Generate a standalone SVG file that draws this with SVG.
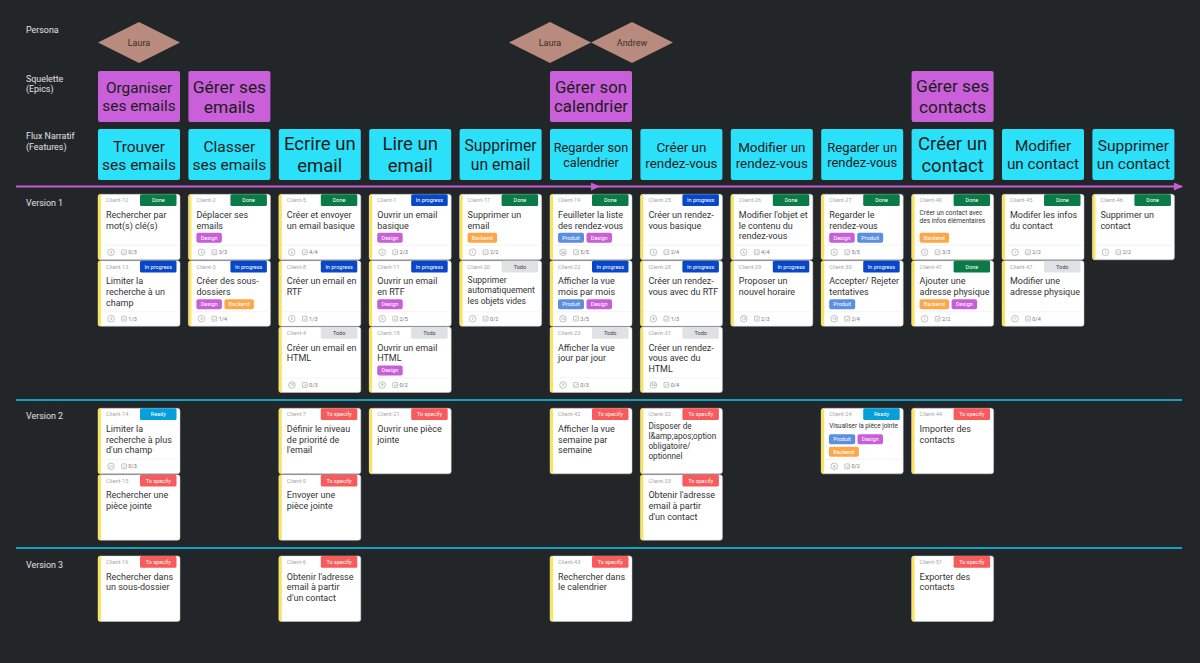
<svg xmlns="http://www.w3.org/2000/svg" xmlns:xlink="http://www.w3.org/1999/xlink" width="1200" height="663" viewBox="0 0 1200 663">
<style>
text{font-family:Roboto,"Liberation Sans",sans-serif}
.lbl{font-size:8.9px;fill:#e2e2e2}
.dia{fill:#b88b7e}
.dt{font-size:9px;fill:#3a2e2a;text-anchor:middle}
.epic{fill:#c960d9}
.feat{fill:#2be1fa}
.bx{fill:#1c1c1c;text-anchor:middle}
.card{fill:#fff;stroke:#c9c9c9;stroke-width:0.5}
.strip{fill:#fbe35c}
.cid{font-size:5.7px;fill:#a8a8a8}
.b-done{fill:#0a7a46}
.b-prog{fill:#0848c8}
.b-todo{fill:#dfe1e5}
.b-ready{fill:#079fd9}
.b-spec{fill:#f75b5b}
.bt{font-size:5.5px;fill:#fff;text-anchor:middle}
.bt.dk{fill:#3d3d3d}
.tt{font-size:9px;fill:#333}
.tt.s65{font-size:6.5px}
.tt.s64{font-size:6.4px}
.tt.s85{font-size:8.5px}
.tt.s82{font-size:8.2px}
.t-des{fill:#c95fd8}
.t-bak{fill:#fca84a}
.t-pro{fill:#5c8fdf}
.tgt{font-size:5.5px;fill:#fff;text-anchor:middle}
.sep{stroke:#efefef;stroke-width:0.7}
.pt{fill:none;stroke:#9a9a9a;stroke-width:0.6}
.ptn{font-size:3.6px;fill:#888;text-anchor:middle}
.cbx{fill:none;stroke:#9a9a9a;stroke-width:0.6}
.ck{fill:none;stroke:#8a8a8a;stroke-width:0.5}
.ft{font-size:5.5px;fill:#777}
.flow{stroke:#c45ed4;stroke-width:2;fill:none}
.ver{stroke:#0fa3c3;stroke-width:2}
</style>
<defs>
<marker id="ah" markerWidth="9" markerHeight="8" refX="8" refY="4" orient="auto" markerUnits="userSpaceOnUse"><path d="M0,0 L9,4 L0,8 z" fill="#c45ed4"/></marker>
<clipPath id="cc"><rect width="82" height="65.5" rx="2.5"/></clipPath>
<g id="card"><rect class="card" width="82" height="65.5" rx="2.5"/><rect class="strip" width="3" height="65.5" clip-path="url(#cc)"/></g>
<g id="foot"><line class="sep" x1="3" y1="51" x2="82" y2="51"/><circle class="pt" cx="13" cy="58" r="3.3"/><rect class="cbx" x="23.6" y="55.6" width="4.8" height="4.8" rx="0.6"/><path class="ck" d="M24.8,58.1l1,1l1.6,-2"/></g>
</defs>
<rect width="1200" height="663" fill="#222629"/>

<g id="labels">
<text class="lbl" x="26" y="32.7">Persona</text>
<text class="lbl" x="26" y="81.7">Squelette</text>
<text class="lbl" x="26" y="92.3">(Epics)</text>
<text class="lbl" x="26" y="139.3">Flux Narratif</text>
<text class="lbl" x="26" y="150">(Features)</text>
<text class="lbl" x="26" y="206">Version 1</text>
<text class="lbl" x="26" y="419">Version 2</text>
<text class="lbl" x="26" y="568">Version 3</text>
</g>

<g id="connectors">
<line class="flow" x1="16" y1="186.5" x2="599" y2="186.5" marker-end="url(#ah)"/>
<line class="flow" x1="599" y1="186.5" x2="1182" y2="186.5" marker-end="url(#ah)"/>
<line class="ver" x1="16" y1="400" x2="1182" y2="400"/>
<line class="ver" x1="16" y1="548" x2="1182" y2="548"/>
</g>

<g id="persona-laura-1"><path class="dia" d="M139,22 L180,42.5 L139,63 L98,42.5 z"/><text class="dt" x="139" y="45.5">Laura</text></g>
<g id="persona-laura-2"><path class="dia" d="M550,22 L591,42.5 L550,63 L509,42.5 z"/><text class="dt" x="550" y="45.5">Laura</text></g>
<g id="persona-andrew"><path class="dia" d="M632,22 L673,42.5 L632,63 L591,42.5 z"/><text class="dt" x="632" y="45.5">Andrew</text></g>

<g id="epic-organiser"><rect class="epic" x="98" y="71" width="82" height="51" rx="2"/><text class="bx" font-size="15.4"><tspan x="139" y="93.3">Organiser</tspan><tspan x="139" y="111">ses emails</tspan></text></g>
<g id="epic-gerer-emails"><rect class="epic" x="188.4" y="71" width="82" height="51" rx="2"/><text class="bx" font-size="17.4"><tspan x="229.4" y="92.7">Gérer ses</tspan><tspan x="229.4" y="113.3">emails</tspan></text></g>
<g id="epic-calendrier"><rect class="epic" x="550" y="71" width="82" height="51" rx="2"/><text class="bx" font-size="16.8"><tspan x="591" y="92.7">Gérer son</tspan><tspan x="591" y="112.3">calendrier</tspan></text></g>
<g id="epic-contacts"><rect class="epic" x="911.6" y="71" width="82" height="51" rx="2"/><text class="bx" font-size="17.3"><tspan x="952.6" y="91.7">Gérer ses</tspan><tspan x="952.6" y="113.3">contacts</tspan></text></g>

<g id="feat-trouver"><rect class="feat" x="98" y="129" width="82" height="51" rx="2"/><text class="bx" font-size="15.5"><tspan x="139" y="151.7">Trouver</tspan><tspan x="139" y="170">ses emails</tspan></text></g>
<g id="feat-classer"><rect class="feat" x="188.4" y="129" width="82" height="51" rx="2"/><text class="bx" font-size="15.5"><tspan x="229.4" y="151.7">Classer</tspan><tspan x="229.4" y="170">ses emails</tspan></text></g>
<g id="feat-ecrire"><rect class="feat" x="278.8" y="129" width="82" height="51" rx="2"/><text class="bx" font-size="18.5"><tspan x="319.8" y="150">Ecrire un</tspan><tspan x="319.8" y="172.3">email</tspan></text></g>
<g id="feat-lire"><rect class="feat" x="369.2" y="129" width="82" height="51" rx="2"/><text class="bx" font-size="18.5"><tspan x="410.2" y="150">Lire un</tspan><tspan x="410.2" y="172.3">email</tspan></text></g>
<g id="feat-supprimer-email"><rect class="feat" x="459.6" y="129" width="82" height="51" rx="2"/><text class="bx" font-size="15.7"><tspan x="500.6" y="151">Supprimer</tspan><tspan x="500.6" y="170">un email</tspan></text></g>
<g id="feat-regarder-cal"><rect class="feat" x="550" y="129" width="82" height="51" rx="2"/><text class="bx" font-size="12.6"><tspan x="591" y="151.7">Regarder son</tspan><tspan x="591" y="166.7">calendrier</tspan></text></g>
<g id="feat-creer-rdv"><rect class="feat" x="640.4" y="129" width="82" height="51" rx="2"/><text class="bx" font-size="13.4"><tspan x="681.4" y="151.7">Créer un</tspan><tspan x="681.4" y="167.7">rendez-vous</tspan></text></g>
<g id="feat-modifier-rdv"><rect class="feat" x="730.8" y="129" width="82" height="51" rx="2"/><text class="bx" font-size="13.4"><tspan x="771.8" y="151.7">Modifier un</tspan><tspan x="771.8" y="167.7">rendez-vous</tspan></text></g>
<g id="feat-regarder-rdv"><rect class="feat" x="821.2" y="129" width="82" height="51" rx="2"/><text class="bx" font-size="13"><tspan x="862.2" y="151.7">Regarder un</tspan><tspan x="862.2" y="167.3">rendez-vous</tspan></text></g>
<g id="feat-creer-contact"><rect class="feat" x="911.6" y="129" width="82" height="51" rx="2"/><text class="bx" font-size="18.5"><tspan x="952.6" y="150">Créer un</tspan><tspan x="952.6" y="172.3">contact</tspan></text></g>
<g id="feat-modifier-contact"><rect class="feat" x="1002" y="129" width="82" height="51" rx="2"/><text class="bx" font-size="15.3"><tspan x="1043" y="150.7">Modifier</tspan><tspan x="1043" y="169">un contact</tspan></text></g>
<g id="feat-supprimer-contact"><rect class="feat" x="1092.4" y="129" width="82" height="51" rx="2"/><text class="bx" font-size="15.5"><tspan x="1133.4" y="151.3">Supprimer</tspan><tspan x="1133.4" y="169.3">un contact</tspan></text></g>

<!-- Version 1 row 0 -->
<g id="client-12" transform="translate(98,194.3)"><use href="#card"/><text class="cid" x="8" y="8">Client-12</text><rect class="b-done" x="42" width="36.5" height="11.7" rx="1.5"/><text class="bt" x="60.3" y="7.9">Done</text><text class="tt"><tspan x="8" y="23.5">Rechercher par</tspan><tspan x="8" y="34.3">mot(s) clé(s)</tspan></text><use href="#foot"/><text class="ptn" x="13" y="59.3">3</text><text class="ft" x="30.3" y="60">0/3</text></g>
<g id="client-2" transform="translate(188.4,194.3)"><use href="#card"/><text class="cid" x="8" y="8">Client-2</text><rect class="b-done" x="42" width="36.5" height="11.7" rx="1.5"/><text class="bt" x="60.3" y="7.9">Done</text><text class="tt"><tspan x="8" y="23.5">Déplacer ses</tspan><tspan x="8" y="34.3">emails</tspan></text><rect class="t-des" x="8" y="38.5" width="25.5" height="10" rx="2"/><text class="tgt" x="20.75" y="45.4">Design</text><use href="#foot"/><text class="ptn" x="13" y="59.3">3</text><text class="ft" x="30.3" y="60">3/3</text></g>
<g id="client-5" transform="translate(278.8,194.3)"><use href="#card"/><text class="cid" x="8" y="8">Client-5</text><rect class="b-done" x="42" width="36.5" height="11.7" rx="1.5"/><text class="bt" x="60.3" y="7.9">Done</text><text class="tt"><tspan x="8" y="23.5">Créer et envoyer</tspan><tspan x="8" y="34.3">un email basique</tspan></text><use href="#foot"/><text class="ptn" x="13" y="59.3">3</text><text class="ft" x="30.3" y="60">4/4</text></g>
<g id="client-1" transform="translate(369.2,194.3)"><use href="#card"/><text class="cid" x="8" y="8">Client-1</text><rect class="b-prog" x="42" width="36.5" height="11.7" rx="1.5"/><text class="bt" x="60.3" y="7.9">In progress</text><text class="tt"><tspan x="8" y="23.5">Ouvrir un email</tspan><tspan x="8" y="34.3">basique</tspan></text><rect class="t-des" x="8" y="38.5" width="25.5" height="10" rx="2"/><text class="tgt" x="20.75" y="45.4">Design</text><use href="#foot"/><text class="ptn" x="13" y="59.3">3</text><text class="ft" x="30.3" y="60">2/3</text></g>
<g id="client-17" transform="translate(459.6,194.3)"><use href="#card"/><text class="cid" x="8" y="8">Client-17</text><rect class="b-done" x="42" width="36.5" height="11.7" rx="1.5"/><text class="bt" x="60.3" y="7.9">Done</text><text class="tt"><tspan x="8" y="23.5">Supprimer un</tspan><tspan x="8" y="34.3">email</tspan></text><rect class="t-bak" x="8" y="38.5" width="29.5" height="10" rx="2"/><text class="tgt" x="22.75" y="45.4">Backend</text><use href="#foot"/><text class="ptn" x="13" y="59.3">1</text><text class="ft" x="30.3" y="60">2/2</text></g>
<g id="client-19" transform="translate(550,194.3)"><use href="#card"/><text class="cid" x="8" y="8">Client-19</text><rect class="b-done" x="42" width="36.5" height="11.7" rx="1.5"/><text class="bt" x="60.3" y="7.9">Done</text><text class="tt"><tspan x="8" y="23.5">Feuilleter la liste</tspan><tspan x="8" y="34.3">des rendez-vous</tspan></text><rect class="t-pro" x="8" y="38.5" width="26" height="10" rx="2"/><text class="tgt" x="21" y="45.4">Produit</text><rect class="t-des" x="36.5" y="38.5" width="25.5" height="10" rx="2"/><text class="tgt" x="49.25" y="45.4">Design</text><use href="#foot"/><text class="ptn" x="13" y="59.3">34</text><text class="ft" x="30.3" y="60">5/5</text></g>
<g id="client-25" transform="translate(640.4,194.3)"><use href="#card"/><text class="cid" x="8" y="8">Client-25</text><rect class="b-prog" x="42" width="36.5" height="11.7" rx="1.5"/><text class="bt" x="60.3" y="7.9">In progress</text><text class="tt"><tspan x="8" y="23.5">Créer un rendez-</tspan><tspan x="8" y="34.3">vous basique</tspan></text><use href="#foot"/><text class="ptn" x="13" y="59.3">3</text><text class="ft" x="30.3" y="60">2/4</text></g>
<g id="client-26" transform="translate(730.8,194.3)"><use href="#card"/><text class="cid" x="8" y="8">Client-26</text><rect class="b-done" x="42" width="36.5" height="11.7" rx="1.5"/><text class="bt" x="60.3" y="7.9">Done</text><text class="tt"><tspan x="8" y="23.5">Modifier l'objet et</tspan><tspan x="8" y="34.3">le contenu du</tspan><tspan x="8" y="45.1">rendez-vous</tspan></text><use href="#foot"/><text class="ptn" x="13" y="59.3">5</text><text class="ft" x="30.3" y="60">4/4</text></g>
<g id="client-27" transform="translate(821.2,194.3)"><use href="#card"/><text class="cid" x="8" y="8">Client-27</text><rect class="b-done" x="42" width="36.5" height="11.7" rx="1.5"/><text class="bt" x="60.3" y="7.9">Done</text><text class="tt"><tspan x="8" y="23.5">Regarder le</tspan><tspan x="8" y="34.3">rendez-vous</tspan></text><rect class="t-des" x="8" y="38.5" width="25.5" height="10" rx="2"/><text class="tgt" x="20.75" y="45.4">Design</text><rect class="t-pro" x="36" y="38.5" width="26" height="10" rx="2"/><text class="tgt" x="49" y="45.4">Produit</text><use href="#foot"/><text class="ptn" x="13" y="59.3">5</text><text class="ft" x="30.3" y="60">5/5</text></g>
<g id="client-40" transform="translate(911.6,194.3)"><use href="#card"/><text class="cid" x="8" y="8">Client-40</text><rect class="b-done" x="42" width="36.5" height="11.7" rx="1.5"/><text class="bt" x="60.3" y="7.9">Done</text><text class="tt s65"><tspan x="8" y="21">Créer un contact avec</tspan><tspan x="8" y="28.7">des infos élémentaires</tspan></text><rect class="t-bak" x="8" y="38.5" width="29.5" height="10" rx="2"/><text class="tgt" x="22.75" y="45.4">Backend</text><use href="#foot"/><text class="ptn" x="13" y="59.3">2</text><text class="ft" x="30.3" y="60">3/3</text></g>
<g id="client-45" transform="translate(1002,194.3)"><use href="#card"/><text class="cid" x="8" y="8">Client-45</text><rect class="b-done" x="42" width="36.5" height="11.7" rx="1.5"/><text class="bt" x="60.3" y="7.9">Done</text><text class="tt"><tspan x="8" y="23.5">Modifer les infos</tspan><tspan x="8" y="34.3">du contact</tspan></text><use href="#foot"/><text class="ptn" x="13" y="59.3">1</text><text class="ft" x="30.3" y="60">2/2</text></g>
<g id="client-46" transform="translate(1092.4,194.3)"><use href="#card"/><text class="cid" x="8" y="8">Client-46</text><rect class="b-done" x="42" width="36.5" height="11.7" rx="1.5"/><text class="bt" x="60.3" y="7.9">Done</text><text class="tt"><tspan x="8" y="23.5">Supprimer un</tspan><tspan x="8" y="34.3">contact</tspan></text><use href="#foot"/><text class="ptn" x="13" y="59.3">1</text><text class="ft" x="30.3" y="60">2/2</text></g>

<!-- Version 1 row 1 -->
<g id="client-13" transform="translate(98,260.7)"><use href="#card"/><text class="cid" x="8" y="8">Client-13</text><rect class="b-prog" x="42" width="36.5" height="11.7" rx="1.5"/><text class="bt" x="60.3" y="7.9">In progress</text><text class="tt"><tspan x="8" y="23.5">Limiter la</tspan><tspan x="8" y="34.3">recherche à un</tspan><tspan x="8" y="45.1">champ</tspan></text><use href="#foot"/><text class="ptn" x="13" y="59.3">3</text><text class="ft" x="30.3" y="60">1/3</text></g>
<g id="client-3" transform="translate(188.4,260.7)"><use href="#card"/><text class="cid" x="8" y="8">Client-3</text><rect class="b-prog" x="42" width="36.5" height="11.7" rx="1.5"/><text class="bt" x="60.3" y="7.9">In progress</text><text class="tt"><tspan x="8" y="23.5">Créer des sous-</tspan><tspan x="8" y="34.3">dossiers</tspan></text><rect class="t-des" x="8" y="38.5" width="25.5" height="10" rx="2"/><text class="tgt" x="20.75" y="45.4">Design</text><rect class="t-bak" x="36" y="38.5" width="29.5" height="10" rx="2"/><text class="tgt" x="50.75" y="45.4">Backend</text><use href="#foot"/><text class="ptn" x="13" y="59.3">5</text><text class="ft" x="30.3" y="60">1/4</text></g>
<g id="client-8" transform="translate(278.8,260.7)"><use href="#card"/><text class="cid" x="8" y="8">Client-8</text><rect class="b-prog" x="42" width="36.5" height="11.7" rx="1.5"/><text class="bt" x="60.3" y="7.9">In progress</text><text class="tt"><tspan x="8" y="23.5">Créer un email en</tspan><tspan x="8" y="34.3">RTF</tspan></text><use href="#foot"/><text class="ptn" x="13" y="59.3">5</text><text class="ft" x="30.3" y="60">1/3</text></g>
<g id="client-11" transform="translate(369.2,260.7)"><use href="#card"/><text class="cid" x="8" y="8">Client-11</text><rect class="b-prog" x="42" width="36.5" height="11.7" rx="1.5"/><text class="bt" x="60.3" y="7.9">In progress</text><text class="tt"><tspan x="8" y="23.5">Ouvrir un email</tspan><tspan x="8" y="34.3">en RTF</tspan></text><rect class="t-des" x="8" y="38.5" width="25.5" height="10" rx="2"/><text class="tgt" x="20.75" y="45.4">Design</text><use href="#foot"/><text class="ptn" x="13" y="59.3">5</text><text class="ft" x="30.3" y="60">2/5</text></g>
<g id="client-20" transform="translate(459.6,260.7)"><use href="#card"/><text class="cid" x="8" y="8">Client-20</text><rect class="b-todo" x="42" width="36.5" height="11.7" rx="1.5"/><text class="bt dk" x="60.3" y="7.9">Todo</text><text class="tt s85"><tspan x="8" y="22.3">Supprimer</tspan><tspan x="8" y="32.6">automatiquement</tspan><tspan x="8" y="42.9">les objets vides</tspan></text><use href="#foot"/><text class="ptn" x="13" y="59.3">2</text><text class="ft" x="30.3" y="60">0/2</text></g>
<g id="client-22" transform="translate(550,260.7)"><use href="#card"/><text class="cid" x="8" y="8">Client-22</text><rect class="b-prog" x="42" width="36.5" height="11.7" rx="1.5"/><text class="bt" x="60.3" y="7.9">In progress</text><text class="tt"><tspan x="8" y="23.5">Afficher la vue</tspan><tspan x="8" y="34.3">mois par mois</tspan></text><rect class="t-pro" x="8" y="38.5" width="26" height="10" rx="2"/><text class="tgt" x="21" y="45.4">Produit</text><rect class="t-des" x="36.5" y="38.5" width="25.5" height="10" rx="2"/><text class="tgt" x="49.25" y="45.4">Design</text><use href="#foot"/><text class="ptn" x="13" y="59.3">13</text><text class="ft" x="30.3" y="60">3/5</text></g>
<g id="client-28" transform="translate(640.4,260.7)"><use href="#card"/><text class="cid" x="8" y="8">Client-28</text><rect class="b-prog" x="42" width="36.5" height="11.7" rx="1.5"/><text class="bt" x="60.3" y="7.9">In progress</text><text class="tt"><tspan x="8" y="23.5">Créer un rendez-</tspan><tspan x="8" y="34.3">vous avec du RTF</tspan></text><use href="#foot"/><text class="ptn" x="13" y="59.3">8</text><text class="ft" x="30.3" y="60">1/3</text></g>
<g id="client-29" transform="translate(730.8,260.7)"><use href="#card"/><text class="cid" x="8" y="8">Client-29</text><rect class="b-prog" x="42" width="36.5" height="11.7" rx="1.5"/><text class="bt" x="60.3" y="7.9">In progress</text><text class="tt"><tspan x="8" y="23.5">Proposer un</tspan><tspan x="8" y="34.3">nouvel horaire</tspan></text><use href="#foot"/><text class="ptn" x="13" y="59.3">13</text><text class="ft" x="30.3" y="60">2/3</text></g>
<g id="client-30" transform="translate(821.2,260.7)"><use href="#card"/><text class="cid" x="8" y="8">Client-30</text><rect class="b-prog" x="42" width="36.5" height="11.7" rx="1.5"/><text class="bt" x="60.3" y="7.9">In progress</text><text class="tt"><tspan x="8" y="23.5">Accepter/ Rejeter</tspan><tspan x="8" y="34.3">tentatives</tspan></text><rect class="t-pro" x="8" y="38.5" width="26" height="10" rx="2"/><text class="tgt" x="21" y="45.4">Produit</text><use href="#foot"/><text class="ptn" x="13" y="59.3">13</text><text class="ft" x="30.3" y="60">2/4</text></g>
<g id="client-41" transform="translate(911.6,260.7)"><use href="#card"/><text class="cid" x="8" y="8">Client-41</text><rect class="b-done" x="42" width="36.5" height="11.7" rx="1.5"/><text class="bt" x="60.3" y="7.9">Done</text><text class="tt"><tspan x="8" y="23.5">Ajouter une</tspan><tspan x="8" y="34.3">adresse physique</tspan></text><rect class="t-bak" x="8" y="38.5" width="29.5" height="10" rx="2"/><text class="tgt" x="22.75" y="45.4">Backend</text><rect class="t-des" x="40" y="38.5" width="25.5" height="10" rx="2"/><text class="tgt" x="52.75" y="45.4">Design</text><use href="#foot"/><text class="ptn" x="13" y="59.3">1</text><text class="ft" x="30.3" y="60">2/2</text></g>
<g id="client-47" transform="translate(1002,260.7)"><use href="#card"/><text class="cid" x="8" y="8">Client-47</text><rect class="b-todo" x="42" width="36.5" height="11.7" rx="1.5"/><text class="bt dk" x="60.3" y="7.9">Todo</text><text class="tt"><tspan x="8" y="23.5">Modifier une</tspan><tspan x="8" y="34.3">adresse physique</tspan></text><use href="#foot"/><text class="ptn" x="13" y="59.3">1</text><text class="ft" x="30.3" y="60">0/4</text></g>

<!-- Version 1 row 2 -->
<g id="client-4" transform="translate(278.8,327)"><use href="#card"/><text class="cid" x="8" y="8">Client-4</text><rect class="b-todo" x="42" width="36.5" height="11.7" rx="1.5"/><text class="bt dk" x="60.3" y="7.9">Todo</text><text class="tt"><tspan x="8" y="23.5">Créer un email en</tspan><tspan x="8" y="34.3">HTML</tspan></text><use href="#foot"/><text class="ptn" x="13" y="59.3">13</text><text class="ft" x="30.3" y="60">0/3</text></g>
<g id="client-18" transform="translate(369.2,327)"><use href="#card"/><text class="cid" x="8" y="8">Client-18</text><rect class="b-todo" x="42" width="36.5" height="11.7" rx="1.5"/><text class="bt dk" x="60.3" y="7.9">Todo</text><text class="tt"><tspan x="8" y="23.5">Ouvrir un email</tspan><tspan x="8" y="34.3">HTML</tspan></text><rect class="t-des" x="8" y="38.5" width="25.5" height="10" rx="2"/><text class="tgt" x="20.75" y="45.4">Design</text><use href="#foot"/><text class="ptn" x="13" y="59.3">8</text><text class="ft" x="30.3" y="60">0/2</text></g>
<g id="client-23" transform="translate(550,327)"><use href="#card"/><text class="cid" x="8" y="8">Client-23</text><rect class="b-todo" x="42" width="36.5" height="11.7" rx="1.5"/><text class="bt dk" x="60.3" y="7.9">Todo</text><text class="tt"><tspan x="8" y="23.5">Afficher la vue</tspan><tspan x="8" y="34.3">jour par jour</tspan></text><use href="#foot"/><text class="ptn" x="13" y="59.3">3</text><text class="ft" x="30.3" y="60">0/3</text></g>
<g id="client-31" transform="translate(640.4,327)"><use href="#card"/><text class="cid" x="8" y="8">Client-31</text><rect class="b-todo" x="42" width="36.5" height="11.7" rx="1.5"/><text class="bt dk" x="60.3" y="7.9">Todo</text><text class="tt"><tspan x="8" y="23.5">Créer un rendez-</tspan><tspan x="8" y="34.3">vous avec du</tspan><tspan x="8" y="45.1">HTML</tspan></text><use href="#foot"/><text class="ptn" x="13" y="59.3">34</text><text class="ft" x="30.3" y="60">0/4</text></g>

<!-- Version 2 row 0 -->
<g id="client-14" transform="translate(98,408.3)"><use href="#card"/><text class="cid" x="8" y="8">Client-14</text><rect class="b-ready" x="42" width="36.5" height="11.7" rx="1.5"/><text class="bt" x="60.3" y="7.9">Ready</text><text class="tt"><tspan x="8" y="23.5">Limiter la</tspan><tspan x="8" y="34.3">recherche à plus</tspan><tspan x="8" y="45.1">d'un champ</tspan></text><use href="#foot"/><text class="ptn" x="13" y="59.3">21</text><text class="ft" x="30.3" y="60">0/3</text></g>
<g id="client-7" transform="translate(278.8,408.3)"><use href="#card"/><text class="cid" x="8" y="8">Client-7</text><rect class="b-spec" x="42" width="36.5" height="11.7" rx="1.5"/><text class="bt" x="60.3" y="7.9">To specify</text><text class="tt"><tspan x="8" y="23.5">Définir le niveau</tspan><tspan x="8" y="34.3">de priorité de</tspan><tspan x="8" y="45.1">l'email</tspan></text></g>
<g id="client-21" transform="translate(369.2,408.3)"><use href="#card"/><text class="cid" x="8" y="8">Client-21</text><rect class="b-spec" x="42" width="36.5" height="11.7" rx="1.5"/><text class="bt" x="60.3" y="7.9">To specify</text><text class="tt"><tspan x="8" y="23.5">Ouvrir une pièce</tspan><tspan x="8" y="34.3">jointe</tspan></text></g>
<g id="client-42" transform="translate(550,408.3)"><use href="#card"/><text class="cid" x="8" y="8">Client-42</text><rect class="b-spec" x="42" width="36.5" height="11.7" rx="1.5"/><text class="bt" x="60.3" y="7.9">To specify</text><text class="tt"><tspan x="8" y="23.5">Afficher la vue</tspan><tspan x="8" y="34.3">semaine par</tspan><tspan x="8" y="45.1">semaine</tspan></text></g>
<g id="client-32" transform="translate(640.4,408.3)"><use href="#card"/><text class="cid" x="8" y="8">Client-32</text><rect class="b-spec" x="42" width="36.5" height="11.7" rx="1.5"/><text class="bt" x="60.3" y="7.9">To specify</text><text class="tt s82"><tspan x="8" y="21.2">Disposer de</tspan><tspan x="8" y="31.2">l&amp;amp;apos;option</tspan><tspan x="8" y="41.2">obligatoire/</tspan><tspan x="8" y="51.2">optionnel</tspan></text></g>
<g id="client-24" transform="translate(821.2,408.3)"><use href="#card"/><text class="cid" x="8" y="8">Client-24</text><rect class="b-ready" x="42" width="36.5" height="11.7" rx="1.5"/><text class="bt" x="60.3" y="7.9">Ready</text><text class="tt s64" x="8" y="19.7">Visualiser la pièce jointe</text><rect class="t-pro" x="7.7" y="26" width="26.3" height="10" rx="2"/><text class="tgt" x="20.85" y="32.9">Produit</text><rect class="t-des" x="36.3" y="26" width="25.5" height="10" rx="2"/><text class="tgt" x="49.05" y="32.9">Design</text><rect class="t-bak" x="7.7" y="38.5" width="30" height="10" rx="2"/><text class="tgt" x="22.7" y="45.4">Backend</text><use href="#foot"/><text class="ptn" x="13" y="59.3">8</text><text class="ft" x="30.3" y="60">0/2</text></g>
<g id="client-44" transform="translate(911.6,408.3)"><use href="#card"/><text class="cid" x="8" y="8">Client-44</text><rect class="b-spec" x="42" width="36.5" height="11.7" rx="1.5"/><text class="bt" x="60.3" y="7.9">To specify</text><text class="tt"><tspan x="8" y="23.5">Importer des</tspan><tspan x="8" y="34.3">contacts</tspan></text></g>

<!-- Version 2 row 1 -->
<g id="client-15" transform="translate(98,474.7)"><use href="#card"/><text class="cid" x="8" y="8">Client-15</text><rect class="b-spec" x="42" width="36.5" height="11.7" rx="1.5"/><text class="bt" x="60.3" y="7.9">To specify</text><text class="tt"><tspan x="8" y="23.5">Rechercher une</tspan><tspan x="8" y="34.3">pièce jointe</tspan></text></g>
<g id="client-9" transform="translate(278.8,474.7)"><use href="#card"/><text class="cid" x="8" y="8">Client-9</text><rect class="b-spec" x="42" width="36.5" height="11.7" rx="1.5"/><text class="bt" x="60.3" y="7.9">To specify</text><text class="tt"><tspan x="8" y="23.5">Envoyer une</tspan><tspan x="8" y="34.3">pièce jointe</tspan></text></g>
<g id="client-33" transform="translate(640.4,474.7)"><use href="#card"/><text class="cid" x="8" y="8">Client-33</text><rect class="b-spec" x="42" width="36.5" height="11.7" rx="1.5"/><text class="bt" x="60.3" y="7.9">To specify</text><text class="tt"><tspan x="8" y="23.5">Obtenir l'adresse</tspan><tspan x="8" y="34.3">email à partir</tspan><tspan x="8" y="45.1">d'un contact</tspan></text></g>

<!-- Version 3 -->
<g id="client-16" transform="translate(98,556)"><use href="#card"/><text class="cid" x="8" y="8">Client-16</text><rect class="b-spec" x="42" width="36.5" height="11.7" rx="1.5"/><text class="bt" x="60.3" y="7.9">To specify</text><text class="tt"><tspan x="8" y="23.5">Rechercher dans</tspan><tspan x="8" y="34.3">un sous-dossier</tspan></text></g>
<g id="client-6" transform="translate(278.8,556)"><use href="#card"/><text class="cid" x="8" y="8">Client-6</text><rect class="b-spec" x="42" width="36.5" height="11.7" rx="1.5"/><text class="bt" x="60.3" y="7.9">To specify</text><text class="tt"><tspan x="8" y="23.5">Obtenir l'adresse</tspan><tspan x="8" y="34.3">email à partir</tspan><tspan x="8" y="45.1">d'un contact</tspan></text></g>
<g id="client-43" transform="translate(550,556)"><use href="#card"/><text class="cid" x="8" y="8">Client-43</text><rect class="b-spec" x="42" width="36.5" height="11.7" rx="1.5"/><text class="bt" x="60.3" y="7.9">To specify</text><text class="tt"><tspan x="8" y="23.5">Rechercher dans</tspan><tspan x="8" y="34.3">le calendrier</tspan></text></g>
<g id="client-51" transform="translate(911.6,556)"><use href="#card"/><text class="cid" x="8" y="8">Client-51</text><rect class="b-spec" x="42" width="36.5" height="11.7" rx="1.5"/><text class="bt" x="60.3" y="7.9">To specify</text><text class="tt"><tspan x="8" y="23.5">Exporter des</tspan><tspan x="8" y="34.3">contacts</tspan></text></g>
</svg>
